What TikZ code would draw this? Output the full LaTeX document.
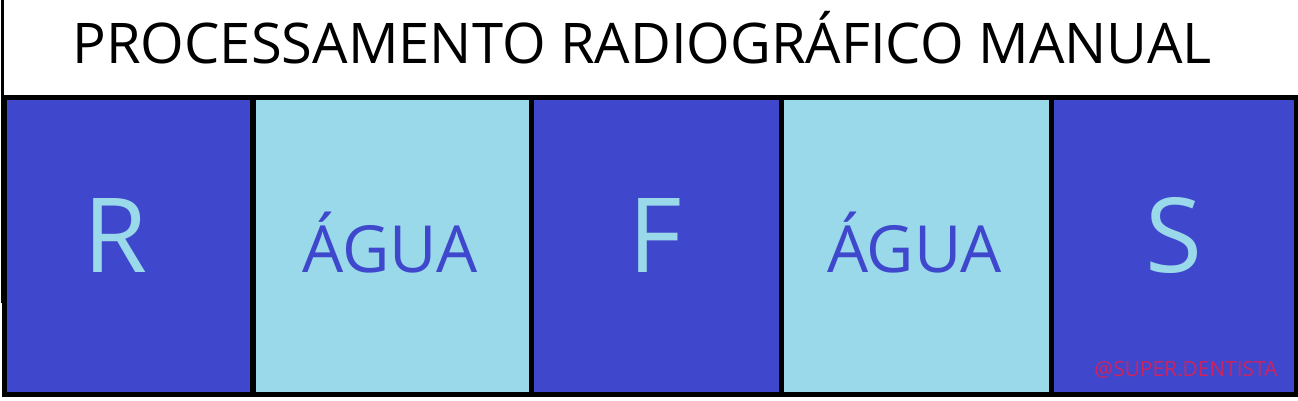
\documentclass[tikz,border=0pt]{standalone}
\usepackage{fontspec}
\setmainfont{Open Sans}
\usetikzlibrary{positioning}
\definecolor{indigo}{RGB}{63,72,204}
\definecolor{turq}{RGB}{153,217,234}
\definecolor{tagred}{RGB}{205,35,95}
\begin{document}
\begin{tikzpicture}[
  x=0.02cm, y=-0.02cm,
  box/.style={rectangle, draw=black, line width=0.1cm, minimum height=5.95cm, inner sep=0pt},
  dark/.style={box, fill=indigo},
  light/.style={box, fill=turq},
  big/.style={anchor=base, inner sep=0pt, text=turq, font=\fontsize{59}{60}\selectfont},
  word/.style={anchor=base, inner sep=0pt, text=indigo, font=\fontsize{37}{40}\selectfont}
]
\useasboundingbox (0,0) rectangle (1298,400);
\fill[white] (0,0) rectangle (1298,400);

% title
\node[anchor=base, inner sep=0pt, font=\fontsize{31.9}{34}\selectfont] (title) at (642,63) {PROCESSAMENTO RADIOGRÁFICO MANUAL};
\draw[line width=0.06cm] (2.5,0) -- (2.5,303);

% row of tanks
\node[dark,  minimum width=4.97cm] (r)  at (128.75,246.25) {};
\node[light, minimum width=5.57cm] (a1) at (392.25,246.25) {};
\node[dark,  minimum width=5cm]    (f)  at (656.5,246.25) {};
\node[light, minimum width=5.4cm]  (a2) at (916.5,246.25) {};
\node[dark,  minimum width=4.9cm]  (s)  at (1174,246.25) {};

\node[big]  (rl)  at (115.5,272) {R};
\node[word] (a1l) at (390,272)   {ÁGUA};
\node[big]  (fl)  at (655.5,272) {F};
\node[word] (a2l) at (914.5,272) {ÁGUA};
\node[big]  (sl)  at (1174,272)  {S};

\node[anchor=base, inner sep=0pt, text=tagred, font=\fontsize{11.9}{13}\selectfont] (tag) at (1186,376) {@SUPER.DENTISTA};
\end{tikzpicture}
\end{document}
